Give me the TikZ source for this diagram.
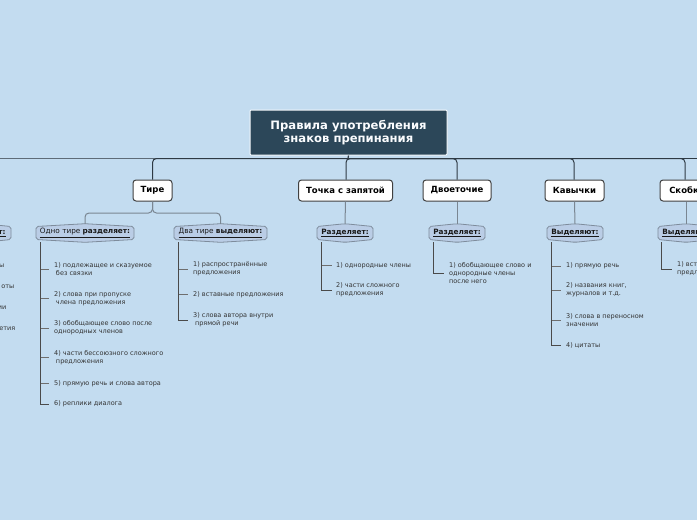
\documentclass[tikz,border=0pt]{standalone}
\usepackage{fontspec}
\setmainfont{DejaVu Sans}
\definecolor{bgcol}{HTML}{C3DCF0}
\definecolor{rootfill}{HTML}{2C4759}
\definecolor{labfill}{HTML}{BACDE6}
\definecolor{labdraw}{HTML}{7E8C9C}
\definecolor{busdark}{HTML}{2E3A44}
\definecolor{busgray}{HTML}{5E6C78}
\definecolor{itemcol}{HTML}{333333}
\definecolor{stemcol}{HTML}{4A4A4A}
\definecolor{linkgray}{HTML}{7A8692}
\tikzset{
  rootbox/.style={draw=white!85!bgcol, line width=1pt, fill=rootfill, text=white!92!bgcol,
    font=\fontsize{11.6}{13.5}\selectfont\bfseries, align=center, minimum width=197, minimum height=45, inner sep=0pt, rounded corners=1pt},
  catbox/.style={draw=black!75, line width=1pt, fill=white, rounded corners=3pt,
    font=\fontsize{8.5}{10}\selectfont\bfseries, minimum height=21, inner sep=0pt},
  labshape/.style={draw=labdraw, fill=labfill, line width=0.8pt, rounded corners=2pt},
  labtext/.style={font=\fontsize{7.3}{9}\selectfont, text=black!90, minimum height=18, inner sep=0pt},
  item/.style={font=\fontsize{6.5}{8}\selectfont, text=itemcol, align=left, anchor=west, inner sep=0pt},
  frag/.style={font=\fontsize{6.5}{8}\selectfont, text=itemcol, anchor=east, inner sep=0pt},
  bus/.style={draw=busdark, line width=1.4pt},
  busl/.style={draw=busgray, line width=1.4pt},
  drop/.style={draw=busdark, line width=1pt, rounded corners=4pt},
  link/.style={draw=linkgray, line width=1pt, rounded corners=4pt},
  stem/.style={draw=stemcol, line width=0.9pt},
  tick/.style={draw=stemcol!80, line width=0.7pt},
}
\newcommand\labbox[5]{%
  \path[labshape] ({#2-#4},{#3-6.5}) -- (#2,{#3-9.3}) -- ({#2+#4},{#3-6.5}) -- ({#2+#4},{#3+6.5}) -- (#2,{#3+9.3}) -- ({#2-#4},{#3+6.5}) -- cycle;
  \node[labtext, minimum width={2*#4}] (#1) at (#2,#3) {#5};}
\begin{document}
\begin{tikzpicture}[x=1pt,y=-1pt]
\useasboundingbox (0,0) rectangle (697,520);
\clip (0,0) rectangle (697,520);
\fill[bgcol] (0,0) rectangle (697,520);

% root
\node[rootbox] (root) at (348.5,132.5) {Правила употребления\\знаков препинания};
\coordinate (hub) at (348,158.5);
\coordinate (leftend) at (-10,158.5);
\coordinate (rightend) at (710,158.5);

% categories
\node[catbox, minimum width=39] (tire) at (152.5,190.5) {Тире};
\node[catbox, minimum width=94] (tochka) at (345.5,190.5) {Точка с запятой};
\node[catbox, minimum width=68] (dvoet) at (457,190.5) {Двоеточие};
\node[catbox, minimum width=59] (kav) at (574.5,190.5) {Кавычки};
\node[catbox, minimum width=54] (skob) at (687,190.5) {Скобки};

% bus
\draw[busl] (hub) -- (leftend);
\draw[bus] (hub) -- (rightend);
\draw[bus, line width=1.2pt] (root.south) -- (hub);
\draw[drop] (hub) -| (tire.north);
\draw[drop] (hub) -| ([xshift=0.5pt]tochka.north);
\draw[drop] (hub) -| (dvoet.north);
\draw[drop] (hub) -| ([xshift=-0.5pt]kav.north);
\draw[drop] (hub) -| ([xshift=-2pt]skob.north);

% labels
\labbox{L0}{-17}{233}{28}{\underline{\textbf{Выделяет:}}}
\labbox{L1}{85}{233}{49}{\underline{Одно тире \textbf{разделяет:}}}
\labbox{L2}{220.5}{233}{46.5}{\underline{Два тире \textbf{выделяют:}}}
\labbox{L3}{345}{233}{28}{\underline{\textbf{Разделяет:}}}
\labbox{L4}{457}{233}{28}{\underline{\textbf{Разделяет:}}}
\labbox{L5}{575}{233}{28}{\underline{\textbf{Выделяют:}}}
\labbox{L6}{686}{233}{28}{\underline{\textbf{Выделяют:}}}

% category -> label links
\draw[link] (tire.south) -- ++(0,11.5) -| (L1.north);
\draw[link] (tire.south) -- ++(0,11.5) -| (L2.north);
\draw[link] (tochka.south) -- (L3.north);
\draw[link] (dvoet.south) -- (L4.north);
\draw[link] (kav.south) -- (L5.north);
\draw[link] ([xshift=-1pt]skob.south) -- (L6.north);

% left fragments
\node[frag] (f1) at (4.5,265.7) {ы};
\node[frag] (f2) at (14.5,286.7) {оты};
\node[frag] (f3) at (6.5,308) {ии};
\node[frag] (f4) at (15.5,329) {етия};

% Одно тире items
\coordinate (v1) at ([xshift=4.5pt]L1.south west);
\node[item] (a1) at (54,269.5) {1) подлежащее и сказуемое\\\hspace*{1.8pt}без связки};
\node[item] (a2) at (54,298.7) {2) слова при пропуске\\\hspace*{1.8pt}члена предложения};
\node[item] (a3) at (54,328) {3) обобщающее слово после\\однородных членов};
\node[item] (a4) at (54,357.5) {4) части бессоюзного сложного\\\hspace*{1.8pt}предложения};
\node[item] (a5) at (54,383.5) {5) прямую речь и слова автора};
\node[item] (a6) at (54,404) {6) реплики диалога};
\foreach \n in {a1,a2,a3,a4,a5} \draw[tick] (v1 |- \n.west) -- ([xshift=-5pt]\n.west);
\draw[stem] (v1) |- ([xshift=-5pt]a6.west);

% Два тире items
\coordinate (v2) at ([xshift=4.5pt]L2.south west);
\node[item] (b1) at (193,269) {1) распространённые\\предложения};
\node[item] (b2) at (193,294.5) {2) вставные предложения};
\node[item] (b3) at (193,320) {3) слова автора внутри\\\hspace*{1.8pt}прямой речи};
\foreach \n in {b1,b2} \draw[tick] (v2 |- \n.west) -- ([xshift=-5pt]\n.west);
\draw[stem] (v2) |- ([xshift=-5pt]b3.west);

% Точка с запятой items
\coordinate (v3) at ([xshift=4.5pt]L3.south west);
\node[item] (c1) at (336,265.5) {1) однородные члены};
\node[item] (c2) at (336,290) {2) части сложного\\предложения};
\draw[tick] (v3 |- c1.west) -- ([xshift=-4pt]c1.west);
\draw[stem] (v3) |- ([xshift=-4pt]c2.west);

% Двоеточие items
\coordinate (v4) at ([xshift=4.5pt]L4.south west);
\node[item] (d1) at (449,273) {1) обобщающее слово и\\однородные члены\\после него};
\draw[stem] (v4) |- ([xshift=-5pt]d1.west);

% Кавычки items
\coordinate (v5) at ([xshift=4.5pt]L5.south west);
\node[item] (e1) at (566,266) {1) прямую речь};
\node[item] (e2) at (566,290) {2) названия книг,\\журналов и т.д.};
\node[item] (e3) at (566,320) {3) слова в переносном\\значении};
\node[item] (e4) at (566,345.5) {4) цитаты};
\foreach \n in {e1,e2,e3} \draw[tick] (v5 |- \n.west) -- ([xshift=-5pt]\n.west);
\draw[stem] (v5) |- ([xshift=-5pt]e4.west);

% Скобки items
\coordinate (v6) at ([xshift=4pt]L6.south west);
\node[item] (g1) at (677,269) {1) вставные\\предложения};
\draw[stem] (v6) |- ([xshift=-5pt]g1.west);
\end{tikzpicture}
\end{document}
